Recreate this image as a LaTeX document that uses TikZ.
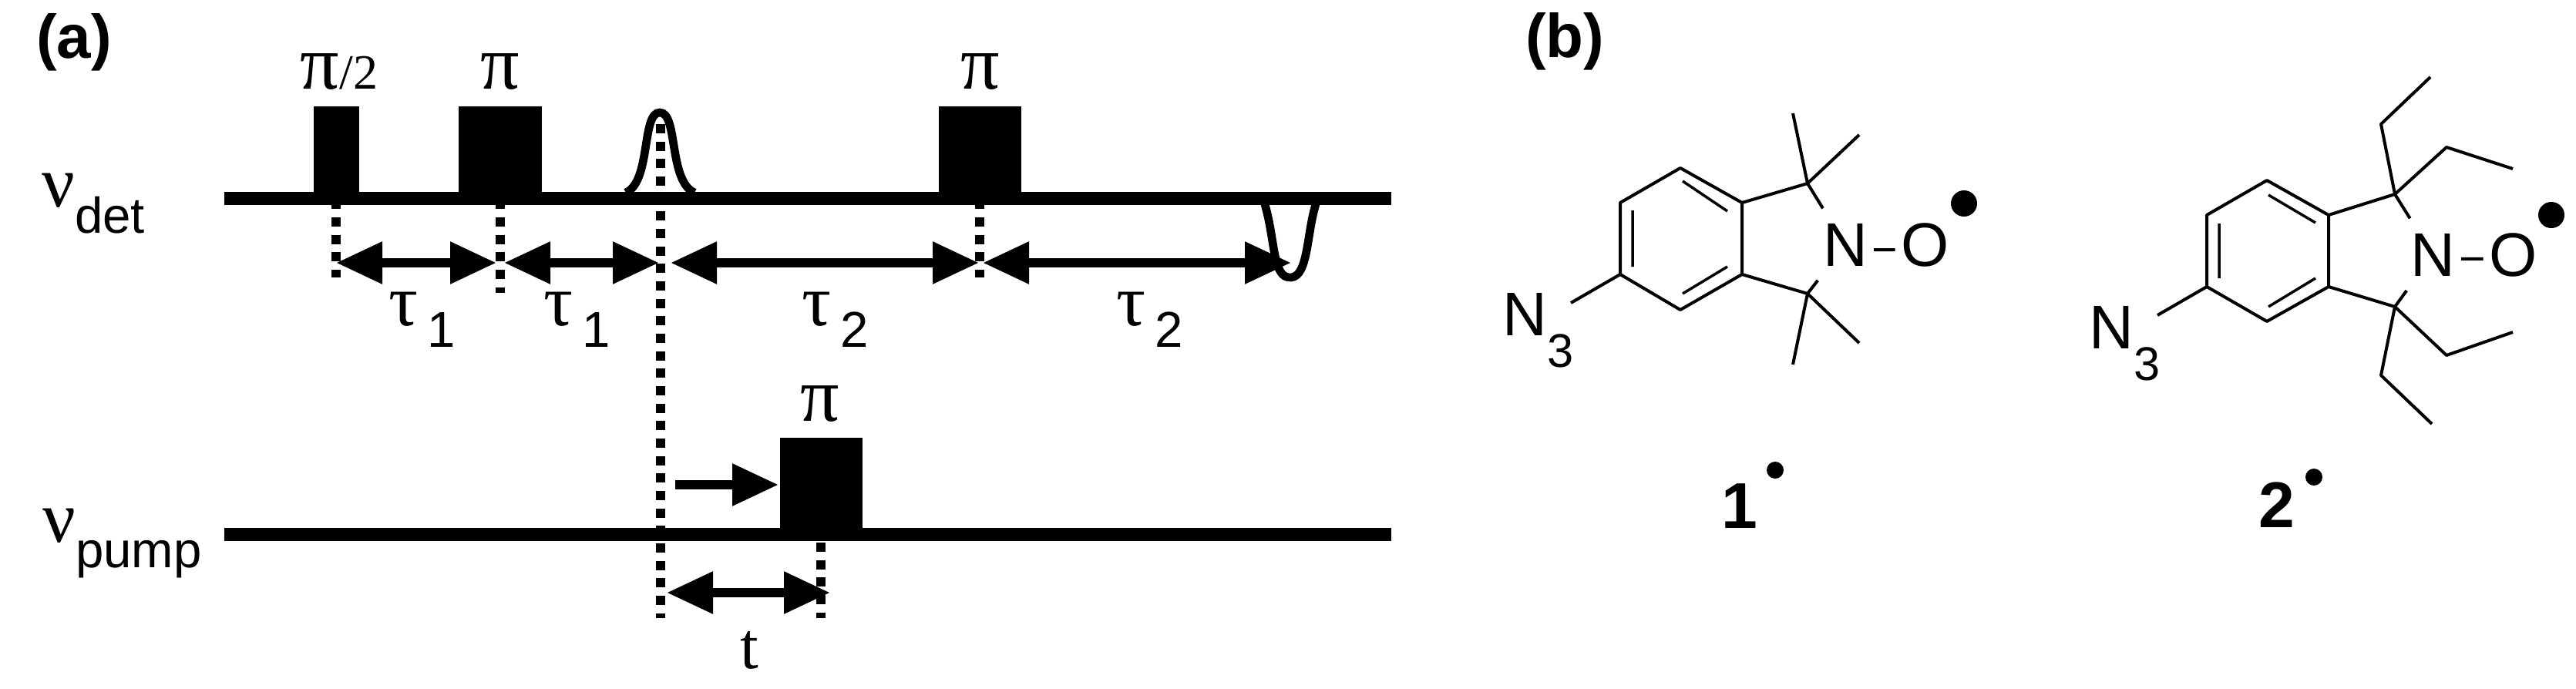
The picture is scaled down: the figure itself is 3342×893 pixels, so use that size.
\documentclass[tikz,border=0pt]{standalone}
\usepackage{fontspec}
\setmainfont{Liberation Sans}
\newfontfamily\gkfam{Liberation Serif}
\usetikzlibrary{arrows.meta}
\newcommand{\gksize}{\gkfam\fontsize{71}{80}\selectfont}
\newcommand{\subsize}{\normalfont\fontsize{49}{52}\selectfont}
\newcommand{\atomsize}{\fontsize{60}{66}\selectfont}
\begin{document}
\begin{tikzpicture}[x=0.75pt,y=0.75pt,yscale=-1,xscale=1,
  rail/.style={line width=12.75pt},
  pulse/.style={fill=black},
  bell/.style={line width=8pt},
  tdash/.style={line width=9pt,dash pattern=on 9pt off 8pt},
  span/.style={line width=9pt,>={Triangle[length=45pt,width=39pt]}},
  txt/.style={anchor=base,inner sep=0pt},
  atom/.style={anchor=base,inner sep=6pt,font=\atomsize},
  bond/.style={line width=3pt},
  inner/.style={line width=2.6pt}]
\useasboundingbox (0,0) rectangle (3342,893);

%Straight Lines: detection and pump channels
\draw [rail] (291,257) -- (1805,257);
\draw [rail] (291,693) -- (1805,693);

%Shape: Rectangle, pulses
\fill [pulse] (407,138) rectangle (466,257);
\fill [pulse] (595,138) rectangle (703,257);
\fill [pulse] (1218,138) rectangle (1325,257);
\fill [pulse] (1012,568) rectangle (1119,693);

%Shape: observer echo and refocused echo
\draw [bell] (812,250) .. controls (845,235) and (832,146) .. (856,146) .. controls (880,146) and (867,235) .. (901,250);
\draw [bell] (1640,262) .. controls (1655,310) and (1650,362) .. (1675,360) .. controls (1698,358) and (1695,300) .. (1708,262);

%Straight Lines: time marks
\draw [tdash,dash phase=5pt] (436,266) -- (436,360);
\draw [tdash,dash phase=5pt] (649,266) -- (649,380);
\draw [tdash] (857,161) -- (857,802);
\draw [tdash,dash phase=5pt] (1271,266) -- (1271,360);
\draw [tdash] (1065,704) -- (1065,802);

%Arrows between the time marks
\coordinate (tauA) at (436,341);
\coordinate (tauB) at (644,341);
\coordinate (tauC) at (654,341);
\coordinate (tauD) at (855,341);
\coordinate (tauE) at (870,341);
\coordinate (tauF) at (1270,341);
\coordinate (tauG) at (1275,341);
\coordinate (tauH) at (1675,341);
\coordinate (stepA) at (876,629);
\coordinate (stepB) at (1010,629);
\coordinate (timeA) at (865,769);
\coordinate (timeB) at (1077,769);
\draw [span,<->] (tauA) -- (tauB);
\draw [span,<->] (tauC) -- (tauD);
\draw [span,<->] (tauE) -- (tauF);
\draw [span,<->] (tauG) -- (tauH);
\draw [span,->] (stepA) -- (stepB);
\draw [span,<->] (timeA) -- (timeB);

% Text Node
\node (panelA) [txt,anchor=base west,font=\fontsize{60}{66}\selectfont\bfseries] at (47,75) {(a)};
% Text Node
\node (panelB) [txt,anchor=base west,font=\fontsize{60}{66}\selectfont\bfseries] at (1979,74) {(b)};
% Text Node
\node (piHalf) [txt] at (440,115) {\gkfam\fontsize{75}{80}\selectfont π\fontsize{48}{50}\selectfont/2};
% Text Node
\node (piB) [txt,font=\gkfam\fontsize{75}{80}\selectfont] at (649,115) {π};
% Text Node
\node (piC) [txt,font=\gkfam\fontsize{75}{80}\selectfont] at (1272,115) {π};
% Text Node
\node (piD) [txt,font=\gkfam\fontsize{75}{80}\selectfont] at (1064,546) {π};
% Text Node
\node (nuDet) [txt,anchor=base west] at (54,268) {\gksize ν\raisebox{-26pt}{\subsize det}};
% Text Node
\node (nuPump) [txt,anchor=base west] at (55,703) {\gksize ν\raisebox{-25pt}{\subsize pump}};
% Text Node
\node (tauOneA) [txt,anchor=base west] at (504,422) {\gksize τ\hspace{9pt}\raisebox{-21pt}{\subsize 1}};
% Text Node
\node (tauOneB) [txt,anchor=base west] at (705,422) {\gksize τ\hspace{9pt}\raisebox{-21pt}{\subsize 1}};
% Text Node
\node (tauTwoA) [txt,anchor=base west] at (1040,422) {\gksize τ\hspace{9pt}\raisebox{-21pt}{\subsize 2}};
% Text Node
\node (tauTwoB) [txt,anchor=base west] at (1448,422) {\gksize τ\hspace{9pt}\raisebox{-21pt}{\subsize 2}};
% Text Node
\node (timeT) [txt,font=\gkfam\fontsize{64}{70}\selectfont] at (972,867) {t};

%Molecule 1
\coordinate (a1) at (2180,218);
\coordinate (a2) at (2102,263);
\coordinate (a3) at (2102,356);
\coordinate (a4) at (2180,402);
\coordinate (a5) at (2260,356);
\coordinate (a6) at (2260,263);
\coordinate (aUp) at (2345,238);
\coordinate (aDn) at (2345,381);
\coordinate (aAz) at (2038,393);
\node (nA) [atom] at (2394,345) {N};
\node (oA) [atom] at (2498,345) {O};
\node (azA) [txt,anchor=base west,font=\atomsize] at (1949,435) {N\raisebox{-31pt}{\fontsize{46}{50}\selectfont 3}};
\node (labelA) [txt,font=\fontsize{63}{70}\selectfont\bfseries] at (2257,685) {1};
\draw [bond,line join=round] (a1) -- (a2) -- (a3) -- (a4) -- (a5) -- (a6) -- cycle;
\draw [bond] (a5) -- (aDn) (a6) -- (aUp);
\draw [inner] (2183,235) -- (2241,274) (2118,273) -- (2118,346) (2183,381) -- (2241,346);
\draw [bond,shorten >=10pt] (aUp) -- (nA);
\draw [bond,shorten >=10pt] (aDn) -- (nA);
\draw [bond] ([yshift=5pt]nA.east) -- ([yshift=5pt]oA.west);
\draw [bond] (aUp) -- (2326,147) (aUp) -- (2412,175) (aDn) -- (2326,473) (aDn) -- (2412,445);
\draw [bond] (a3) -- (aAz);
\fill (2548,264) circle [radius=17];
\fill (2303,610) circle [radius=11];

%Molecule 2
\coordinate (b1) at (2941,234);
\coordinate (b2) at (2863,279);
\coordinate (b3) at (2863,372);
\coordinate (b4) at (2941,417);
\coordinate (b5) at (3021,372);
\coordinate (b6) at (3021,279);
\coordinate (bUp) at (3107,252);
\coordinate (bDn) at (3107,398);
\coordinate (bAz) at (2799,409);
\node (nB) [atom] at (3156,358) {N};
\node (oB) [atom] at (3261,358) {O};
\node (azB) [txt,anchor=base west,font=\atomsize] at (2710,452) {N\raisebox{-31pt}{\fontsize{46}{50}\selectfont 3}};
\node (labelB) [txt,font=\fontsize{63}{70}\selectfont\bfseries] at (2954,684) {2};
\draw [bond,line join=round] (b1) -- (b2) -- (b3) -- (b4) -- (b5) -- (b6) -- cycle;
\draw [bond] (b5) -- (bDn) (b6) -- (bUp);
\draw [inner] (2943,253) -- (3004,289) (2879,290) -- (2879,361) (2943,398) -- (3004,361);
\draw [bond,shorten >=10pt] (bUp) -- (nB);
\draw [bond,shorten >=10pt] (bDn) -- (nB);
\draw [bond] ([yshift=4pt]nB.east) -- ([yshift=4pt]oB.west);
\draw [bond,line join=round] (bUp) -- (3089,161) -- (3153,100);
\draw [bond,line join=round] (bUp) -- (3174,191) -- (3260,219);
\draw [bond,line join=round] (bDn) -- (3089,487) -- (3155,550);
\draw [bond,line join=round] (bDn) -- (3174,461) -- (3260,431);
\draw [bond] (b3) -- (bAz);
\fill (3310,279) circle [radius=17];
\fill (3002,619) circle [radius=11];

\end{tikzpicture}
\end{document}
